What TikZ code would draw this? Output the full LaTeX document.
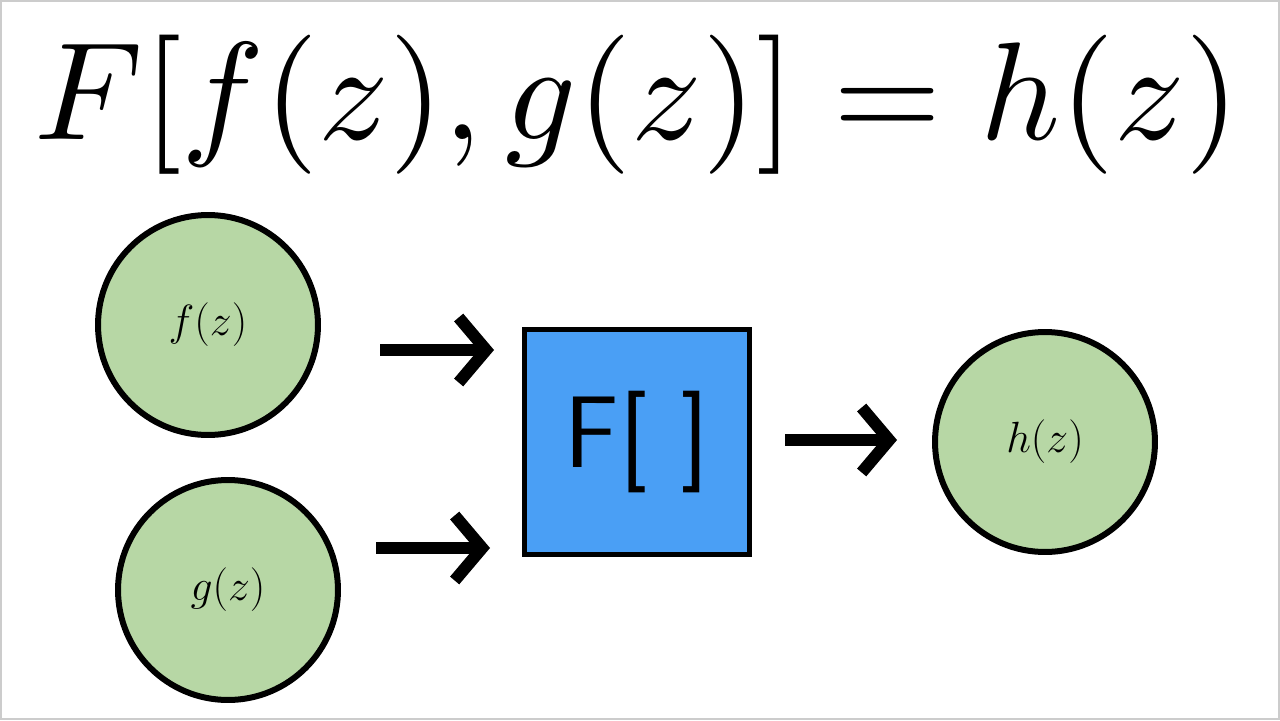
\documentclass[tikz,border=0pt]{standalone}
\usepackage{fontspec}
\usetikzlibrary{arrows.meta,calc}
\definecolor{leaf}{HTML}{B7D7A5}
\definecolor{sky}{HTML}{4A9FF5}
\begin{document}
\begin{tikzpicture}[x=0.02cm,y=-0.02cm,
  fn/.style={circle,draw=black,line width=0.12cm,fill=leaf,minimum size=4.4cm,inner sep=0pt,font=\fontsize{40}{48}\selectfont},
  op/.style={draw=black,line width=0.1cm,fill=sky,minimum size=4.5cm,inner sep=0pt},
  flow/.style={line width=0.24cm,-{Straight Barb[length=0.55cm,width=1.3cm,line width=0.24cm]}}]
\useasboundingbox (0,0) rectangle (1280,720);
\fill[white] (0,0) rectangle (1280,720);
\draw[gray!40,line width=0.04cm] (1,1) rectangle (1279,719);
\node (eq) at (637,105) {\resizebox{24.1cm}{!}{$F[f(z),g(z)]=h(z)$}};
\node[fn] (f) at (208,325) {$f(z)$};
\node[fn] (g) at (228,590) {$g(z)$};
\node[fn] (h) at (1045,442) {$h(z)$};
\node[op] (F) at (637,442) {\fontsize{58}{64}\selectfont\sffamily F[\,\,]};
\coordinate (a1) at (380,350); \coordinate (b1) at (494,350);
\coordinate (a2) at (376,548); \coordinate (b2) at (490,548);
\coordinate (a3) at (785,440); \coordinate (b3) at (897,440);
\draw[flow] (a1) -- (b1);
\draw[flow] (a2) -- (b2);
\draw[flow] (a3) -- (b3);
\end{tikzpicture}
\end{document}
